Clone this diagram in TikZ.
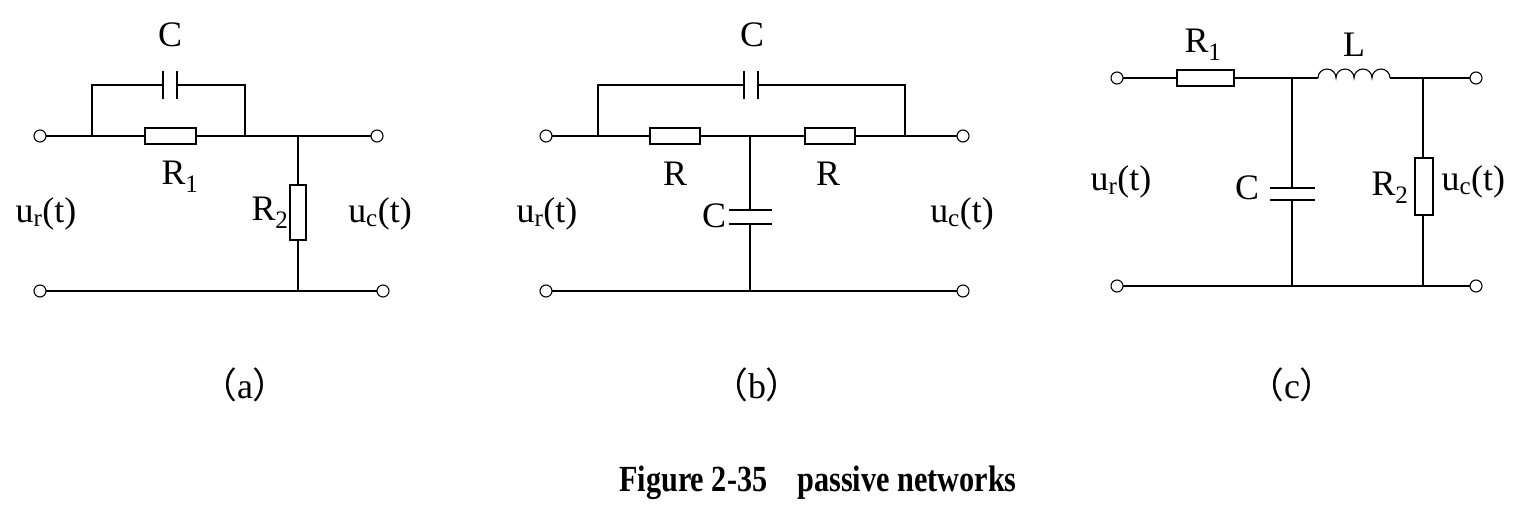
\documentclass[tikz,border=0pt]{standalone}
\usepackage{fontspec}
\setmainfont{Liberation Serif}
\newfontfamily\cjk{Noto Sans CJK SC}
\begin{document}
\begin{tikzpicture}[x=1bp,y=-1bp,line width=1.1bp,
  term/.style={circle,draw,fill=white,minimum size=12bp,inner sep=0pt},
  lbl/.style={font=\fontsize{36}{36}\selectfont,inner sep=0pt},
  captxt/.style={font=\fontsize{36}{36}\selectfont,inner sep=0pt}]
\useasboundingbox (0,0) rectangle (1516,511);
% ---------- (a)
\draw (40,136) -- (377,136);
\draw (40,291) -- (383,291);
\draw (92,136) -- (92,85) -- (163,85); \draw (177,85) -- (245,85) -- (245,136);
\draw (163,71) -- (163,99); \draw (177,71) -- (177,99);
\draw[fill=white] (145,128) rectangle (196,144);
\draw (298,136) -- (298,291); \draw[fill=white] (290,185) rectangle (306,240);
\node[term] (ta1) at (40,136) {}; \node[term] (ta2) at (377,136) {};
\node[term] (ta3) at (40,291) {}; \node[term] (ta4) at (383,291) {};
\node[lbl] at (170,35) {C};
\node[lbl] at (180,177) {R\textsubscript{1}};
\node[lbl] at (270,213) {R\textsubscript{2}};
\node[lbl] at (46,214) {u\textsubscript{r}(t)};
\node[lbl] at (380,214) {u\textsubscript{c}(t)};
\node[captxt] at (245,385) {{\cjk （}a{\cjk ）}};
% ---------- (b)
\draw (546,136) -- (963,136);
\draw (546,291) -- (963,291);
\draw (598,136) -- (598,85) -- (744,85); \draw (758,85) -- (905,85) -- (905,136);
\draw (744,71) -- (744,99); \draw (758,71) -- (758,99);
\draw[fill=white] (650,128) rectangle (700,144);
\draw[fill=white] (805,128) rectangle (855,144);
\draw (750,136) -- (750,210); \draw (750,224) -- (750,291);
\draw (729,210) -- (772,210); \draw (729,224) -- (772,224);
\node[term] at (546,136) {}; \node[term] at (963,136) {};
\node[term] at (546,291) {}; \node[term] at (963,291) {};
\node[lbl] at (752,35) {C};
\node[lbl] at (675,174) {R};
\node[lbl] at (828,174) {R};
\node[lbl] at (714,216) {C};
\node[lbl] at (547,214) {u\textsubscript{r}(t)};
\node[lbl] at (962,214) {u\textsubscript{c}(t)};
\node[captxt] at (757,385) {{\cjk （}b{\cjk ）}};
% ---------- (c)
\draw (1117,78) -- (1318,78);
\draw (1390,78) -- (1476,78);
\draw (1318,78) arc[start angle=180,end angle=360,radius=9]
  arc[start angle=180,end angle=360,radius=9]
  arc[start angle=180,end angle=360,radius=9]
  arc[start angle=180,end angle=360,radius=9];
\draw[fill=white] (1177,70) rectangle (1234,86);
\draw (1117,286) -- (1476,286);
\draw (1292,78) -- (1292,188); \draw (1292,200) -- (1292,286);
\draw (1270,188) -- (1315,188); \draw (1270,200) -- (1315,200);
\draw (1423,78) -- (1423,286);
\draw[fill=white] (1415,158) rectangle (1433,215);
\node[term] at (1117,78) {}; \node[term] at (1476,78) {};
\node[term] at (1117,286) {}; \node[term] at (1476,286) {};
\node[lbl] at (1203,45) {R\textsubscript{1}};
\node[lbl] at (1354,45) {L};
\node[lbl] at (1247,188) {C};
\node[lbl] at (1390,188) {R\textsubscript{2}};
\node[lbl] at (1121,182) {u\textsubscript{r}(t)};
\node[lbl,anchor=west] at (1441,182) {u\textsubscript{c}(t)};
\node[captxt] at (1292,385) {{\cjk （}c{\cjk ）}};
% ---------- caption
\node[font=\fontsize{37}{37}\selectfont\bfseries,xscale=0.82,inner sep=0pt] at (818,483) {Figure 2-35\hspace{1em}passive networks};
\end{tikzpicture}
\end{document}
